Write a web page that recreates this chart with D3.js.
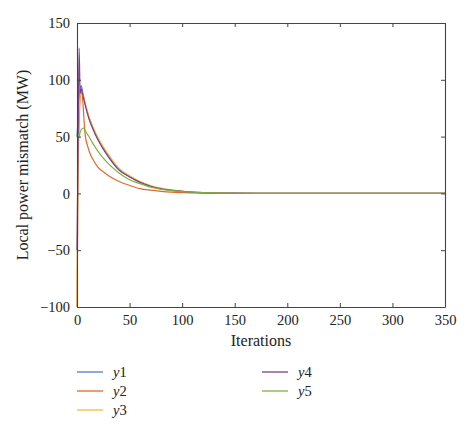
<!DOCTYPE html>
<html>
<head>
<meta charset="utf-8">
<script src="https://cdn.jsdelivr.net/npm/d3@7"></script>
<style>
  html, body { margin: 0; padding: 0; background: #fff; }
  svg { display: block; }
  text { font-family: "Liberation Serif", "Times New Roman", serif; fill: #222; }
</style>
</head>
<body>
<svg id="chart" width="474" height="436"></svg>
<script>
const iterations = [0,1,2,3,4,5,6,7,8,10,12,15,20,25,30,40,50,60,70,80,90,100,110,120,140,170,200,250,300,350];
const y1 = [50,65,80,92,95,91,86,82,78,71,65,58,48,40,33,21,15,10,6.5,4.3,2.8,1.8,1.1,0.7,0.3,0.1,0,0,0,0];
const y2 = [-100,20,60,85,90,86,75,60,50,42,36,30,23,19,15.5,10.5,7,4.2,2.8,1.8,1.1,0.7,0.4,0.2,0.1,0,0,0,0,0];
const y3 = [-100,30,70,86,90,89,86,82,79,72,66,59,49,41,34,22,15.5,10.5,7,4.6,3,2,1.3,0.8,0.3,0.1,0,0,0,0];
const y4 = [-50,40,128,88,92,89,85,81,77,70,64,57,47,39,32,20.5,14.5,9.7,6.3,4.1,2.7,1.7,1,0.6,0.3,0.1,0,0,0,0];
const y5 = [50,52,50,54,56,57,57.5,57,55,52,49,44,37,31,26,18,12,8.5,5.5,3.6,2.4,1.5,1,0.6,0.2,0.1,0,0,0,0];
const seriesNames = ["1","2","3","4","5"];
const seriesColors = ["#4d7cc0","#e06a2c","#f0bd3c","#7e3f8e","#80b040"];
const xTicks = [0,50,100,150,200,250,300,350];
const yTicks = [-100,-50,0,50,100,150];

(function () {
const allSeries = [y1,y2,y3,y4,y5];
const svg = d3.select("#chart");
const mLeft = 77, mRight = 445, mTop = 23, mBottom = 307;

const x = d3.scaleLinear().domain([0,350]).range([mLeft,mRight]);
const y = d3.scaleLinear().domain([-100,150]).range([mBottom,mTop]);

// lines
const line = d3.line().x(d => x(d[0])).y(d => y(d[1])).curve(d3.curveMonotoneX);
allSeries.forEach((s,i) => {
  svg.append("path")
    .datum(iterations.map((it,k) => [it, s[k]]))
    .attr("fill","none")
    .attr("stroke",seriesColors[i])
    .attr("stroke-width",1.2)
    .attr("d",line);
});

// axes (ticks inside)
const axisColor = "#444";
const gx = svg.append("g").attr("transform",`translate(0,${mBottom})`)
  .call(d3.axisBottom(x).tickValues(xTicks).tickSizeInner(-4).tickSizeOuter(0).tickPadding(8));
const gxTop = svg.append("g").attr("transform",`translate(0,${mTop})`)
  .call(d3.axisTop(x).tickValues(xTicks).tickSizeInner(-4).tickSizeOuter(0).tickFormat(""));
const gy = svg.append("g").attr("transform",`translate(${mLeft},0)`)
  .call(d3.axisLeft(y).tickValues(yTicks).tickSizeInner(-4).tickSizeOuter(0).tickPadding(7).tickFormat(d => d < 0 ? "\u2212" + Math.abs(d) : d));
const gyR = svg.append("g").attr("transform",`translate(${mRight},0)`)
  .call(d3.axisRight(y).tickValues(yTicks).tickSizeInner(-4).tickSizeOuter(0).tickFormat(""));
[gx,gxTop,gy,gyR].forEach(g => {
  g.select(".domain").attr("stroke",axisColor).attr("stroke-width",1.1);
  g.selectAll(".tick line").attr("stroke",axisColor);
  g.selectAll(".tick text").attr("font-family","Liberation Serif, serif").attr("font-size",14.5).attr("fill","#1a1a1a");
});

// axis titles
svg.append("text").attr("x",(mLeft+mRight)/2).attr("y",346).attr("text-anchor","middle")
  .attr("font-size",16).attr("fill","#1a1a1a").text("Iterations");
svg.append("text").attr("transform",`translate(28,${(mTop+mBottom)/2}) rotate(-90)`)
  .attr("text-anchor","middle").attr("font-size",16).attr("fill","#1a1a1a").text("Local power mismatch (MW)");

// legend
const legendPos = [[77,372],[77,391],[77,410],[262,372],[262,391]];
seriesNames.forEach((n,i) => {
  const [lx,ly] = legendPos[i];
  svg.append("line").attr("x1",lx).attr("x2",lx+26).attr("y1",ly).attr("y2",ly)
    .attr("stroke",seriesColors[i]).attr("stroke-width",1.3);
  const t = svg.append("text").attr("x",lx+36).attr("y",ly+5).attr("font-size",14.5).attr("fill","#1a1a1a");
  t.append("tspan").attr("font-style","italic").text("y");
  t.append("tspan").text(n);
});
})();
</script>
</body>
</html>
